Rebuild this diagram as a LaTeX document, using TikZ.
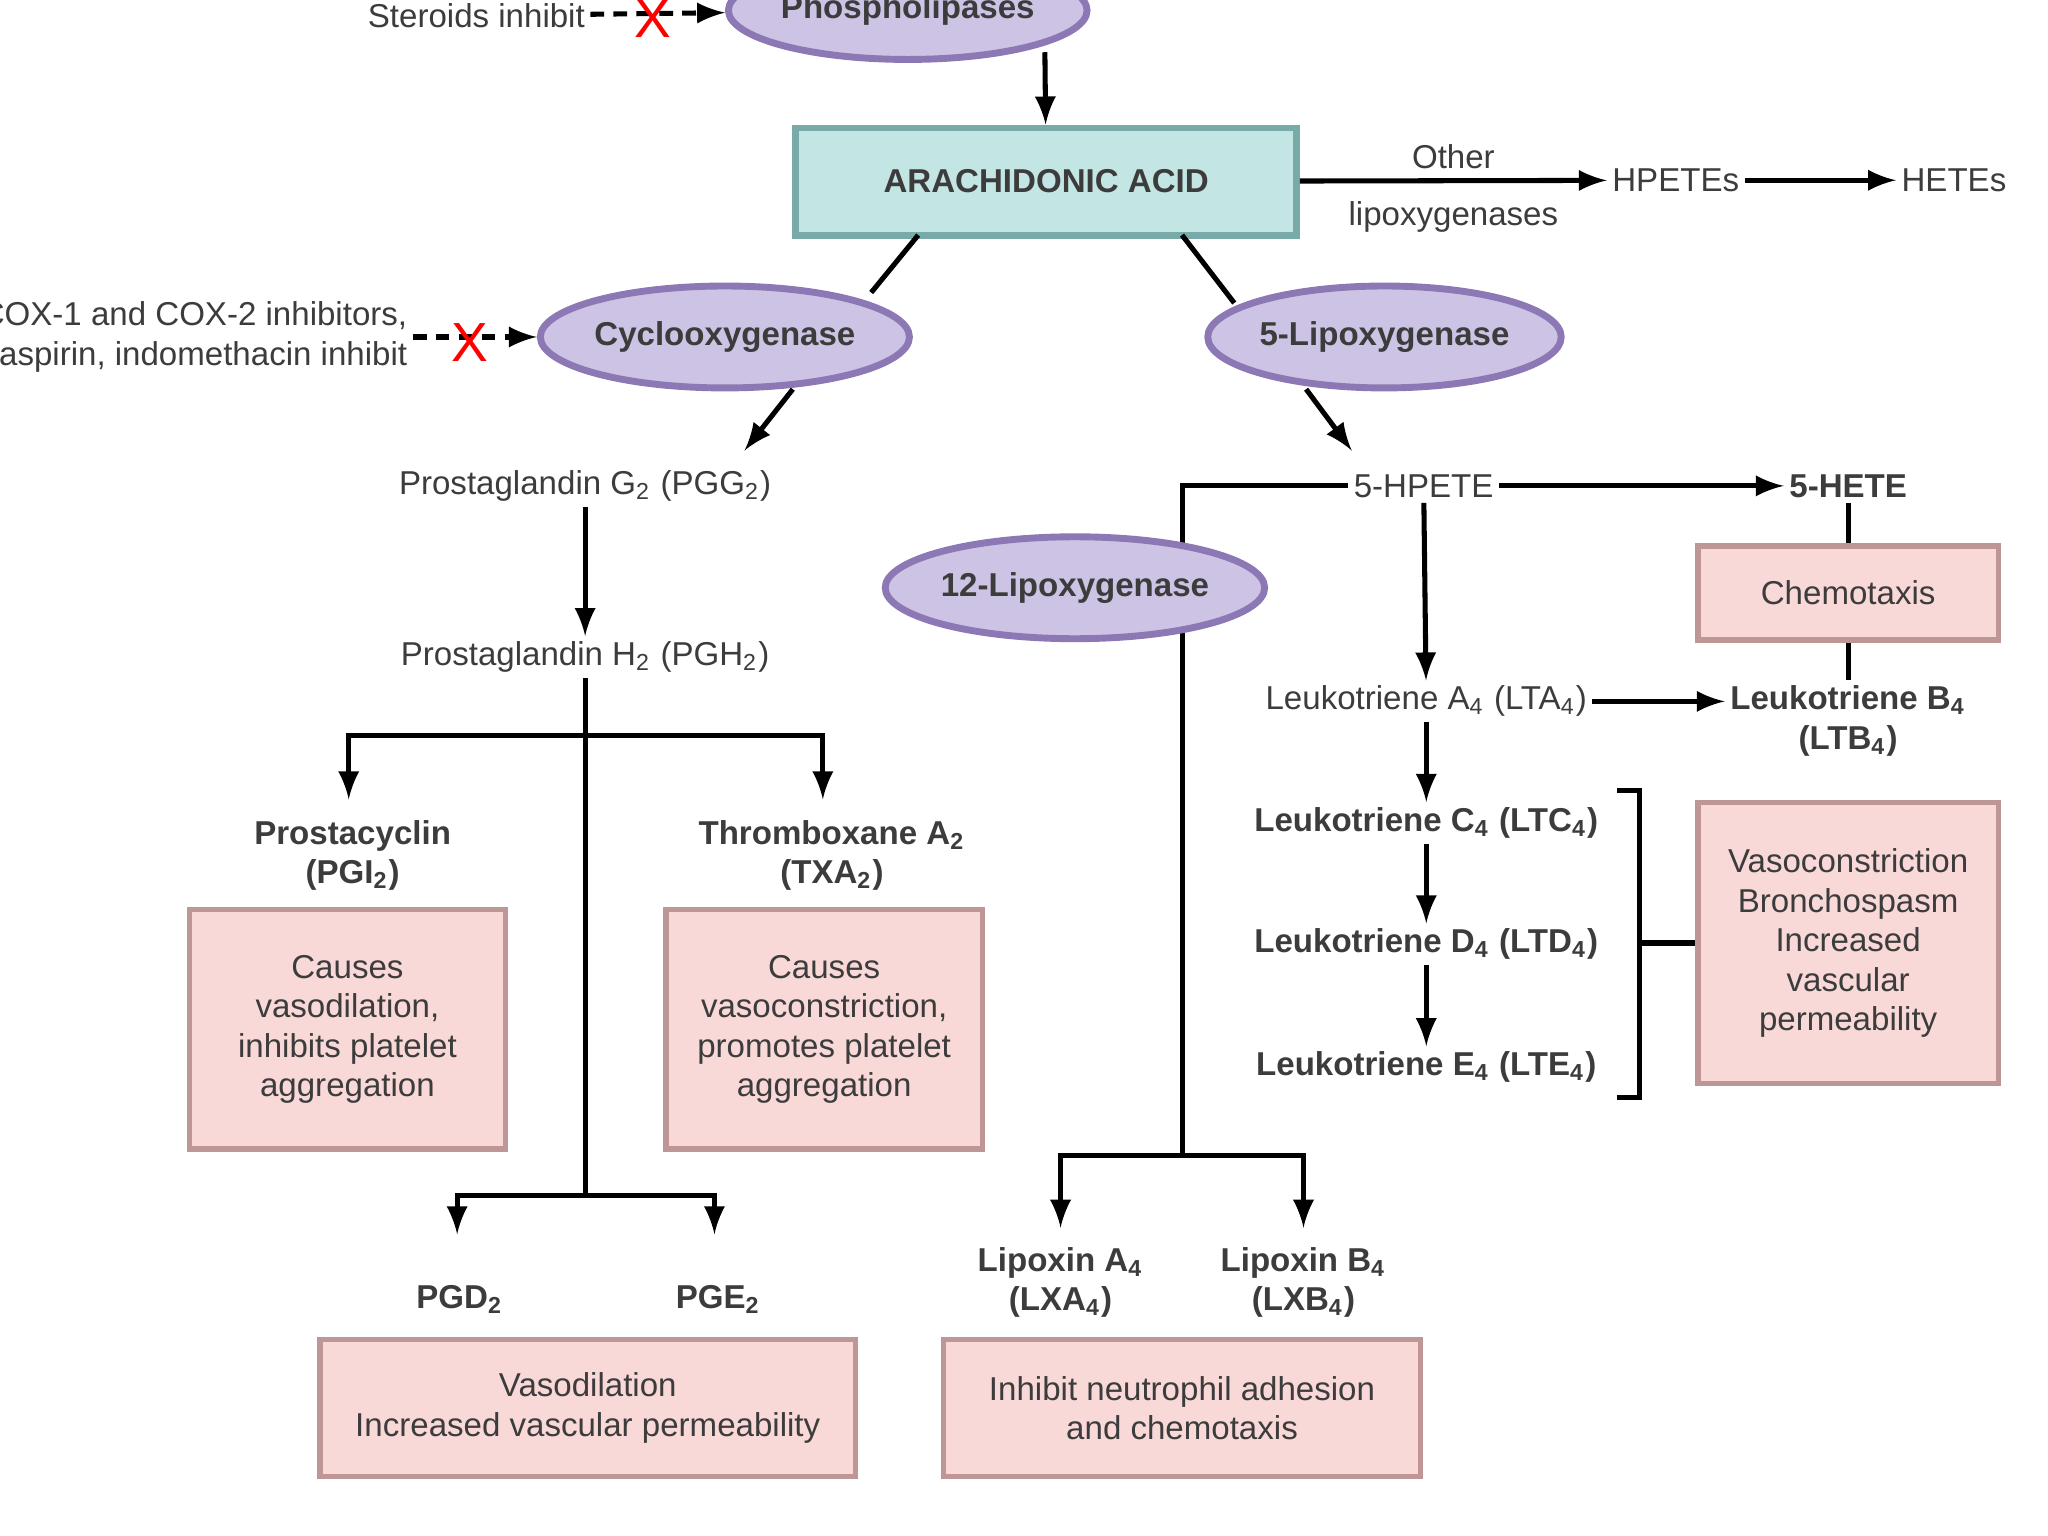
\documentclass[tikz,border=0pt]{standalone}
\usepackage{fontspec}
\setmainfont{Liberation Sans}
\usetikzlibrary{arrows,shapes}
\newcommand{\smallfont}{\fontsize{7.2}{8.6}\selectfont}
\definecolor{enzfill}{RGB}{205,195,228}
\definecolor{enzdraw}{RGB}{140,120,180}
\definecolor{acidfill}{RGB}{195,230,228}
\definecolor{acidraw}{RGB}{120,170,170}
\definecolor{boxfill}{RGB}{249,216,216}
\definecolor{boxdraw}{RGB}{190,150,150}
\definecolor{txt}{RGB}{60,60,60}
\tikzstyle{enzyme}=[ellipse,fill=enzfill,draw=enzdraw,line width=1.5pt,minimum width=2.55cm,minimum height=0.78cm,inner sep=0pt,font=\smallfont\bfseries,text=txt]
\tikzstyle{effect}=[rectangle,fill=boxfill,draw=boxdraw,line width=1.2pt,align=center,inner sep=0pt,text=txt,font=\smallfont]
\tikzstyle{lbl}=[align=center,text=txt,inner sep=1pt,font=\smallfont]
\tikzstyle{product}=[align=center,text=txt,font=\smallfont\bfseries,inner sep=1pt]
\tikzstyle{edge}=[draw,line width=1.1pt,-]
\tikzstyle{flow}=[draw,line width=1.1pt,-latex]
\tikzstyle{block}=[draw,line width=1.1pt,densely dashed,-latex]
\tikzstyle{cross}=[text=red,font=\fontsize{12}{12}\selectfont,inner sep=0pt]

\begin{document}
\begin{tikzpicture}[x=0.01cm,y=-0.01cm]
        \useasboundingbox (0,0) rectangle (1568,1176);
        % enzymes and acid
        \node[enzyme,minimum width=2.6cm,minimum height=0.75cm] (pla) at (695,8) {Phospholipases};
        \node[rectangle,fill=acidfill,draw=acidraw,line width=1.5pt,minimum width=3.83cm,minimum height=0.82cm,font=\smallfont\bfseries,text=txt] (aa) at (801,139) {ARACHIDONIC ACID};
        \node[enzyme] (cox) at (555,258) {Cyclooxygenase};
        \node[enzyme] (lox5) at (1060,258) {5-Lipoxygenase};
        % inhibitors
        \node[lbl,anchor=east] (ster) at (452,12) {Steroids inhibit};
        \node[lbl,anchor=east,align=right] (nsaid) at (316,258) {COX-1 and COX-2 inhibitors,\\aspirin, indomethacin inhibit};
        \draw[block] (ster) to (pla);
        \draw[block] (nsaid) to (cox);
        \node[cross] (x1) at (500,14) {X};
        \node[cross] (x2) at (360,262) {X};
        \draw[flow] (800,40) to (aa);
        % other lipoxygenases
        \node[lbl] (hpetes) at (1283,138) {HPETEs};
        \node[lbl] (hetes) at (1496,138) {HETEs};
        \draw[flow] (aa) to node[lbl,above=1pt] {Other} node[lbl,below=3pt] {lipoxygenases} (hpetes);
        \draw[flow] (hpetes) to (hetes);
        \draw[edge] (703,180) to (667,224);
        \draw[edge] (905,180) to (945,232);
        % cyclooxygenase branch
        \node[lbl] (pgg) at (448,372) {Prostaglandin G\textsubscript{2} (PGG\textsubscript{2})};
        \node[lbl] (pgh) at (448,503) {Prostaglandin H\textsubscript{2} (PGH\textsubscript{2})};
        \draw[flow] (607,298) to (570,345);
        \draw[flow] (pgg) to (pgh);
        \draw[edge] (pgh) to (448,915);
        \draw[flow] (448,563) -| (267,612);
        \draw[flow] (448,563) -| (630,612);
        \node[product] (pgi) at (270,655) {Prostacyclin\\(PGI\textsubscript{2})};
        \node[product] (txa) at (637,655) {Thromboxane A\textsubscript{2}\\(TXA\textsubscript{2})};
        \node[effect,minimum width=2.42cm,minimum height=1.83cm] (pgibox) at (266,788) {Causes\\vasodilation,\\inhibits platelet\\aggregation};
        \node[effect,minimum width=2.42cm,minimum height=1.83cm] (txabox) at (631,788) {Causes\\vasoconstriction,\\promotes platelet\\aggregation};
        \draw[flow] (448,915) -| (350,945);
        \draw[flow] (448,915) -| (547,945);
        \node[product] (pgd) at (352,995) {PGD\textsubscript{2}};
        \node[product] (pge) at (550,995) {PGE\textsubscript{2}};
        \node[effect,minimum width=4.1cm,minimum height=1.05cm] (pgdbox) at (450,1078) {Vasodilation\\Increased vascular permeability};
        % lipoxygenase branch
        \node[lbl] (hpete) at (1090,372) {5-HPETE};
        \node[product] (hete) at (1415,372) {5-HETE};
        \draw[flow] (1000,298) to (1035,345);
        \draw[edge] (hpete) -| (905,885);
        \node[enzyme,minimum width=2.7cm] (lox12) at (823,450) {12-Lipoxygenase};
        \draw[flow] (905,885) -| (812,940);
        \draw[flow] (905,885) -| (998,940);
        \node[product] (lxa) at (812,982) {Lipoxin A\textsubscript{4}\\(LXA\textsubscript{4})};
        \node[product] (lxb) at (998,982) {Lipoxin B\textsubscript{4}\\(LXB\textsubscript{4})};
        \node[effect,minimum width=3.65cm,minimum height=1.05cm] (lxbox) at (905,1078) {Inhibit neutrophil adhesion\\and chemotaxis};
        \draw[flow] (hpete) to (hete);
        \node[effect,minimum width=2.3cm,minimum height=0.72cm] (chemo) at (1415,454) {Chemotaxis};
        \draw[edge] (hete) to (chemo);
        \node[lbl] (lta) at (1092,537) {Leukotriene A\textsubscript{4} (LTA\textsubscript{4})};
        \node[product] (ltb) at (1415,552) {Leukotriene B\textsubscript{4}\\(LTB\textsubscript{4})};
        \draw[edge] (chemo) to (ltb);
        \draw[flow] (hpete) to (lta);
        \draw[flow] (lta) to (ltb.west |- lta);
        \node[product] (ltc) at (1092,630) {Leukotriene C\textsubscript{4} (LTC\textsubscript{4})};
        \node[product] (ltd) at (1092,723) {Leukotriene D\textsubscript{4} (LTD\textsubscript{4})};
        \node[product] (lte) at (1092,817) {Leukotriene E\textsubscript{4} (LTE\textsubscript{4})};
        \draw[flow] (lta) to (ltc);
        \draw[flow] (ltc) to (ltd);
        \draw[flow] (ltd) to (lte);
        \node[effect,minimum width=2.3cm,minimum height=2.15cm] (ltbox) at (1415,722) {Vasoconstriction\\Bronchospasm\\Increased\\vascular\\permeability};
        \draw[edge] (1238,605) -- (1255,605) -- (1255,840) -- (1238,840);
        \draw[edge] (1255,722) to (ltbox);
      \end{tikzpicture}
\end{document}
